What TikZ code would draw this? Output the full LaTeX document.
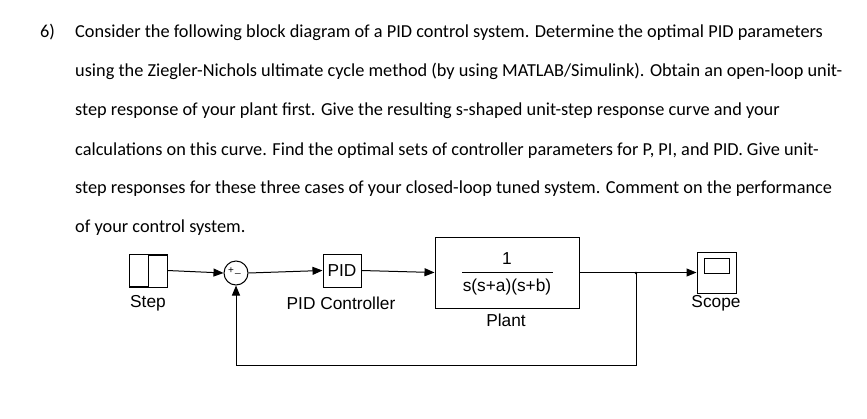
\documentclass[tikz,border=0pt]{standalone}
\usepackage{fontspec}
\setmainfont{Carlito}
\newfontfamily\arialf{Liberation Sans}
\usetikzlibrary{arrows.meta}
\begin{document}
\begin{tikzpicture}[x=1pt,y=-1pt,
  txt/.style={anchor=base west,inner sep=0pt,font=\fontsize{18.3}{21}\selectfont},
  blk/.style={draw,line width=1pt,inner sep=0pt},
  lab/.style={inner sep=0pt,font=\arialf\fontsize{17.3}{20}\selectfont},
  sig/.style={line width=1pt,-{Triangle[length=10pt,width=8pt]}}]
\useasboundingbox (0,0) rectangle (867,418);
\node[txt] (n) at (40,37) {6)};
\node[txt] (l1) at (75,37) {Consider the following block diagram of a PID control system. Determine the optimal PID parameters};
\node[txt] (l2) at (75,76) {using the Ziegler-Nichols ultimate cycle method (by using MATLAB/Simulink). Obtain an open-loop unit-};
\node[txt] (l3) at (75,115) {step response of your plant first. Give the resulting s-shaped unit-step response curve and your};
\node[txt] (l4) at (75,155) {calculations on this curve. Find the optimal sets of controller parameters for P, PI, and PID. Give unit-};
\node[txt] (l5) at (75,193) {step responses for these three cases of your closed-loop tuned system. Comment on the performance};
\node[txt] (l6) at (75,232) {of your control system.};
% blocks
\node[blk,minimum width=38pt,minimum height=33pt] (step) at (148,270.5) {};
\draw[line width=0.7pt] (130,286) -- (148,286) -- (148,255) -- (167,255);
\node[lab] (stepl) at (148,303) {Step};
\node[draw,circle,line width=1pt,minimum size=24pt,inner sep=0pt] (sum) at (236,273) {};
\node[inner sep=0pt,font=\arialf\fontsize{10}{10}\selectfont] (pl) at (231,271) {+};
\node[inner sep=0pt,font=\arialf\fontsize{10}{10}\selectfont] (mi) at (238,273) {\_};
\node[blk,minimum width=38pt,minimum height=33pt,font=\arialf\fontsize{17.3}{20}\selectfont] (pid) at (342,270.5) {PID};
\node[lab] (pidl) at (341,303) {PID Controller};
\node[blk,minimum width=144pt,minimum height=71pt] (plant) at (507,272.5) {};
\node[lab] (num) at (507,259) {1};
\draw[line width=0.7pt] (462,272) -- (553,272);
\node[lab] (den) at (507,287) {s(s+a)(s+b)};
\node[lab] (plantl) at (506,320) {Plant};
\node[blk,minimum width=39pt,minimum height=41pt] (scope) at (716.5,272.5) {};
\draw[line width=0.8pt] (704,258) rectangle (729,273);
\node[lab] (scopel) at (716,303) {Scope};
\coordinate (br) at (636,273);
\coordinate (c1) at (636,365);
\coordinate (c2) at (236,365);
\draw[sig] (step.east) -- (sum.west);
\draw[sig] (sum.east) -- (pid.west);
\draw[sig] (pid.east) -- (plant.west);
\draw[sig] (plant.east) -- (scope.west);
\draw[sig] (br) -- (c1) -- (c2) -- (sum.south);
\fill (br) circle (1.3pt);
\end{tikzpicture}
\end{document}
